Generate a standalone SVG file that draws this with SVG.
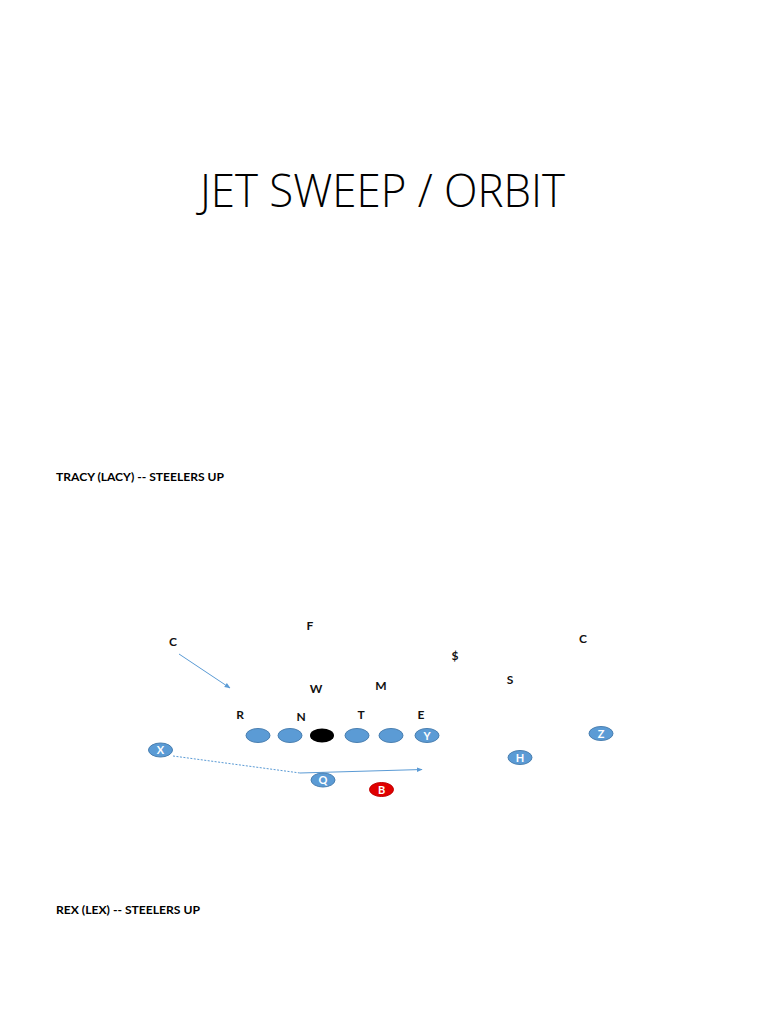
<svg xmlns="http://www.w3.org/2000/svg" width="768" height="1024" viewBox="0 0 768 1024">
<style>
.t{font-family:Lato,"Open Sans","Liberation Sans",sans-serif;fill:#000}
.title{font-family:"Open Sans",Lato,"Liberation Sans",sans-serif;font-weight:300;fill:#000}
.lbl{font-family:Lato,"Open Sans","Liberation Sans",sans-serif;font-weight:bold;font-size:12px;fill:#111;text-anchor:middle}
.pl{fill:#5b9bd5;stroke:#4a7fb0;stroke-width:1}
.pt{font-family:Lato,"Open Sans","Liberation Sans",sans-serif;font-weight:bold;font-size:11px;fill:#fff;text-anchor:middle}
.cn{stroke:#5b9bd5;stroke-width:1;fill:none}
</style>
<defs>
<marker id="ah" viewBox="0 0 10 10" refX="9" refY="5" markerWidth="6" markerHeight="6" orient="auto" markerUnits="userSpaceOnUse">
<path d="M0,1 L10,5 L0,9 z" fill="#5b9bd5"/>
</marker>
</defs>
<rect width="768" height="1024" fill="#fff"/>
<text class="title" x="200" y="207" font-size="46" textLength="365" lengthAdjust="spacingAndGlyphs">JET SWEEP / ORBIT</text>
<text class="t" x="56" y="481" font-size="12" font-weight="bold" textLength="168" lengthAdjust="spacingAndGlyphs">TRACY (LACY) -- STEELERS UP</text>
<text class="t" x="56" y="914" font-size="12" font-weight="bold" textLength="144" lengthAdjust="spacingAndGlyphs">REX (LEX) -- STEELERS UP</text>

<g id="defense">
<text class="lbl" x="173" y="646">C</text>
<text class="lbl" x="310" y="630">F</text>
<text class="lbl" x="455" y="660">$</text>
<text class="lbl" x="583" y="643">C</text>
<text class="lbl" x="316" y="693">W</text>
<text class="lbl" x="381" y="690">M</text>
<text class="lbl" x="510" y="684">S</text>
<text class="lbl" x="240" y="719">R</text>
<text class="lbl" x="301" y="721">N</text>
<text class="lbl" x="361" y="719">T</text>
<text class="lbl" x="421" y="719">E</text>
</g>

<g id="connectors">
<line class="cn" x1="179" y1="654" x2="230" y2="688" marker-end="url(#ah)"/>
<line class="cn" x1="173" y1="756" x2="300" y2="773" stroke-dasharray="2,1.5" stroke-width="0.8"/>
<line class="cn" x1="300" y1="773" x2="422" y2="769.5" marker-end="url(#ah)"/>
</g>

<g id="lt"><ellipse class="pl" cx="258" cy="735.5" rx="12" ry="7"/></g>
<g id="lg"><ellipse class="pl" cx="290" cy="735.5" rx="12" ry="7"/></g>
<g id="c"><ellipse cx="322" cy="735.5" rx="12" ry="7" fill="#000"/></g>
<g id="rg"><ellipse class="pl" cx="357" cy="735.5" rx="12" ry="7"/></g>
<g id="rt"><ellipse class="pl" cx="391" cy="735.5" rx="12" ry="7"/></g>
<g id="y"><ellipse class="pl" cx="427" cy="735.5" rx="12" ry="7"/><text class="pt" x="427" y="739.5">Y</text></g>
<g id="x"><ellipse class="pl" cx="160.5" cy="750" rx="12" ry="7"/><text class="pt" x="160.5" y="754">X</text></g>
<g id="q"><ellipse class="pl" cx="323" cy="780" rx="12" ry="7"/><text class="pt" x="323" y="784">Q</text></g>
<g id="b"><ellipse cx="381.5" cy="789.5" rx="12" ry="7" fill="#e00000" stroke="#c00000"/><text class="pt" x="381.5" y="793.5">B</text></g>
<g id="h"><ellipse class="pl" cx="520" cy="757.5" rx="12" ry="7"/><text class="pt" x="520" y="761.5">H</text></g>
<g id="z"><ellipse class="pl" cx="601" cy="733.5" rx="12" ry="7"/><text class="pt" x="601" y="737.5">Z</text></g>
</svg>
